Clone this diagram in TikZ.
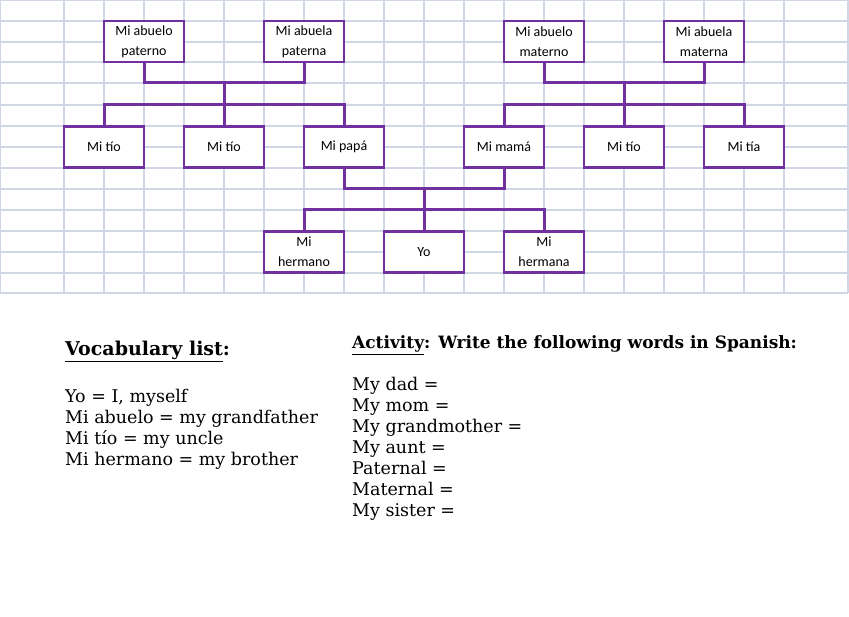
\documentclass[tikz,border=0pt]{standalone}
\usepackage{fontspec}
\setmainfont{DejaVu Serif}
\newfontfamily\boxfont{Carlito}
\definecolor{famc}{RGB}{112,48,160}
\definecolor{gridc}{RGB}{208,215,229}
\begin{document}
\begin{tikzpicture}[x=1pt,y=-1pt,
  fbox/.style={draw=famc,line width=2.6pt,fill=white,minimum width=80pt,minimum height=41pt,inner sep=0pt,font=\boxfont\fontsize{14}{20}\selectfont,align=center},
  link/.style={draw=famc,line width=3pt},
  txt/.style={anchor=west,inner sep=0pt,font=\fontsize{17.5}{21}\selectfont}]
\useasboundingbox (0,0) rectangle (849,617);
\foreach \x in {0,64,104,...,784,848} \draw[gridc,line width=1.2pt] (\x,0) -- (\x,293);
\foreach \y in {0,21,42,62,83,105,126,147,168,189,210,231,252,273,293} \draw[gridc,line width=1.2pt] (0,\y) -- (848,\y);
\coordinate (c1) at (224,105);
\coordinate (c2) at (624,105);
\coordinate (c3) at (424,210);
\coordinate (d1) at (224,83);
\coordinate (d2) at (624,83);
\coordinate (d3) at (424,189);
\node[fbox] (gp1) at (144,41.5) {Mi abuelo\\paterno};
\node[fbox] (gp2) at (304,41.5) {Mi abuela\\paterna};
\node[fbox] (gm1) at (544,41.5) {Mi abuelo\\materno};
\node[fbox] (gm2) at (704,41.5) {Mi abuela\\materna};
\node[fbox] (t1) at (104,147) {Mi tío};
\node[fbox] (t2) at (224,147) {Mi tío};
\node[fbox] (pa) at (344,147) {Mi papá};
\node[fbox] (ma) at (504,147) {Mi mamá};
\node[fbox] (t3) at (624,147) {Mi tío};
\node[fbox] (t4) at (744,147) {Mi tía};
\node[fbox] (h1) at (304,252) {Mi\\hermano};
\node[fbox] (yo) at (424,252) {Yo};
\node[fbox] (h2) at (544,252) {Mi\\hermana};
\draw[link] (gp1.south) |- (d1) -| (gp2.south);
\draw[link] (d1) -- (c1);
\draw[link] (t1.north) |- (c1) -| (pa.north); \draw[link] (c1) -- (t2.north);
\draw[link] (gm1.south) |- (d2) -| (gm2.south);
\draw[link] (d2) -- (c2);
\draw[link] (ma.north) |- (c2) -| (t4.north); \draw[link] (c2) -- (t3.north);
\draw[link] (pa.south) |- (d3) -| (ma.south);
\draw[link] (d3) -- (c3);
\draw[link] (h1.north) |- (c3) -| (h2.north); \draw[link] (c3) -- (yo.north);
\node[txt,font=\fontsize{19}{21}\selectfont] (vh) at (65,351) {\bfseries\underline{Vocabulary list}:};
\node[txt,anchor=north west] (vl) at (65,388) {\begin{tabular}{@{}l@{}}Yo = I, myself\\Mi abuelo = my grandfather\\Mi tío = my uncle\\Mi hermano = my brother\end{tabular}};
\node[txt,font=\fontsize{17}{21}\selectfont] (ah) at (352,345) {\bfseries\underline{Activity}: Write the following words in Spanish:};
\node[txt,anchor=north west] (al) at (352,376) {\begin{tabular}{@{}l@{}}My dad =\\My mom =\\My grandmother =\\My aunt =\\Paternal =\\Maternal =\\My sister =\end{tabular}};
\end{tikzpicture}
\end{document}
